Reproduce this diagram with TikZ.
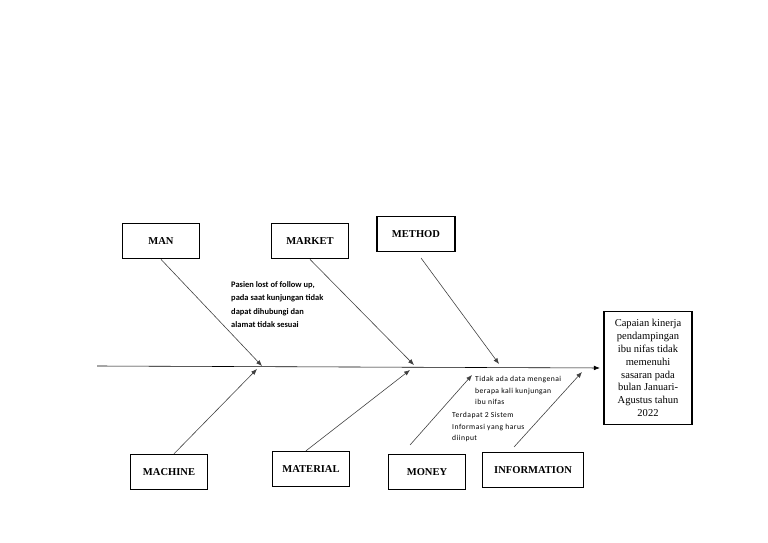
\documentclass[tikz,border=0pt]{standalone}
\usepackage{fontspec}
\setmainfont{Liberation Serif}
\newfontfamily\notefont{Carlito}
\newfontfamily\smallnotefont[LetterSpace=6]{Carlito}
\usetikzlibrary{arrows.meta}

\begin{document}
\begin{tikzpicture}[x=0.03cm,y=-0.03cm,>={Latex[length=5pt,width=4pt]}]
    \tikzset{
        cause/.style={draw,line width=1.2pt,minimum width=2.31cm,minimum height=1.06cm,
            inner sep=0pt,font=\fontsize{9}{11}\selectfont\bfseries},
        bone/.style={->,draw=black!75,line width=0.5pt},
        note/.style={anchor=north west,align=left,inner sep=0pt}
    }
    \useasboundingbox (0,0) rectangle (768,543);

    % head of the fish
    \node (effect) at (648,368) [draw,line width=1.2pt,minimum width=2.64cm,minimum height=3.39cm,
        inner sep=0pt,align=center,font=\fontsize{9}{11}\selectfont]
        {Capaian kinerja\\pendampingan\\ibu nifas tidak\\memenuhi\\sasaran pada\\bulan Januari-\\Agustus tahun\\2022};
    \coordinate (tail) at (97,366);
    \draw[->,line width=0.5pt] (tail) -- (effect.west) [shorten >=3pt];

    % causes above
    \node (man) at (161,241) [cause] {MAN};
    \node (market) at (310,241) [cause] {MARKET};
    \node (method) at (416,234) [cause,minimum width=2.34cm,minimum height=1.05cm] {METHOD};

    % causes below
    \node (machine) at (169,472) [cause,minimum height=1.05cm] {MACHINE};
    \node (material) at (311,469) [cause,minimum height=1.05cm] {MATERIAL};
    \node (money) at (427,472) [cause,minimum height=1.05cm] {MONEY};
    \node (information) at (533,470) [cause,minimum width=3.03cm] {INFORMATION};

    % points on the spine
    \coordinate (p1) at (262,366);
    \coordinate (p2) at (414,365);
    \coordinate (p3) at (499,364);
    \coordinate (q1) at (257,369);
    \coordinate (q2) at (410,370);
    \coordinate (q3) at (472,375);
    \coordinate (q4) at (582,372);
    \coordinate (s1) at (421,258);
    \coordinate (s2) at (410,445);
    \coordinate (s3) at (514,447);

    \draw[bone] (man.south) -- (p1);
    \draw[bone] (market.south) -- (p2);
    \draw[bone] (s1) -- (p3);
    \draw[bone] ([xshift=5*0.03cm]machine.north) -- (q1);
    \draw[bone] ([xshift=-5*0.03cm]material.north) -- (q2);
    \draw[bone] (s2) -- (q3);
    \draw[bone] (s3) -- (q4);

    % notes
    \node (n1) at (231,281) [note,font=\notefont\fontsize{7.2}{11.6}\selectfont\bfseries]
        {Pasien lost of follow up,\\pada saat kunjungan tidak\\dapat dihubungi dan\\alamat tidak sesuai};
    \node (n2) at (475,376) [note,font=\smallnotefont\fontsize{6.5}{10}\selectfont]
        {Tidak ada data mengenai\\berapa kali kunjungan\\ibu nifas};
    \node (n3) at (452,412) [note,font=\smallnotefont\fontsize{6.5}{10}\selectfont]
        {Terdapat 2 Sistem\\Informasi yang harus\\diinput};
\end{tikzpicture}
\end{document}
